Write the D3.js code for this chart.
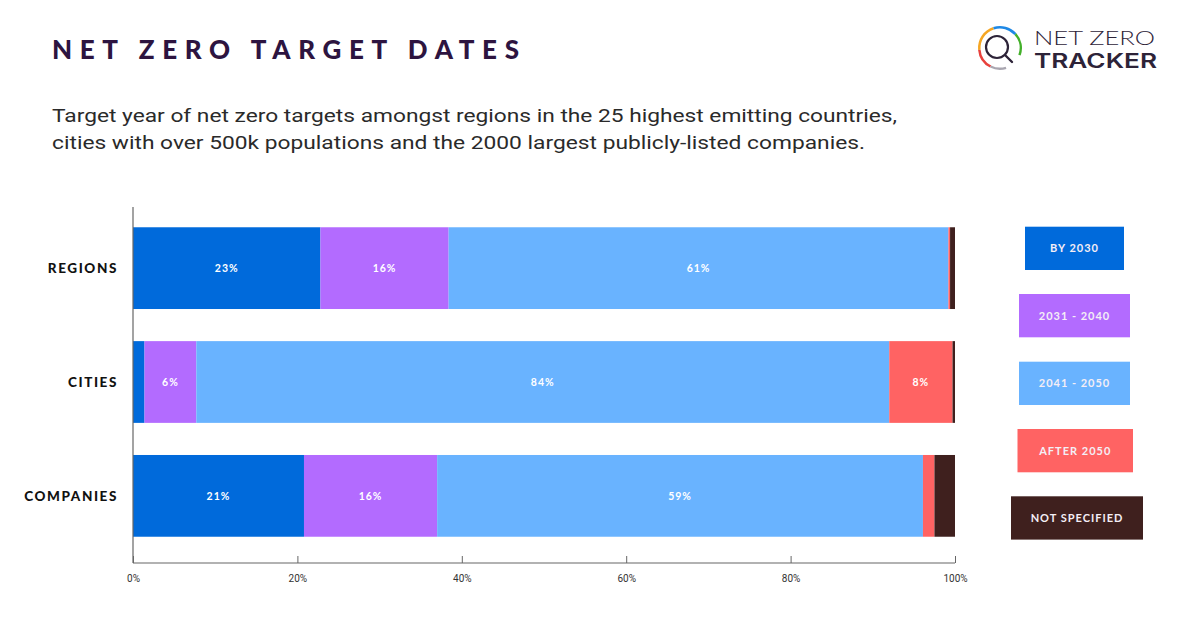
<!DOCTYPE html>
<html><head><meta charset="utf-8">
<script src="https://cdn.jsdelivr.net/npm/d3@7"></script>
<style>
html,body{margin:0;padding:0;background:#fff;}
svg{display:block;}
</style></head>
<body>
<svg id="chart" width="1200" height="630"></svg>
<script>
const categories = ["REGIONS", "CITIES", "COMPANIES"];
const seriesNames = ["BY 2030", "2031 - 2040", "2041 - 2050", "AFTER 2050", "NOT SPECIFIED"];
const by2030      = [22.8, 1.4, 20.8];
const y2031_2040  = [15.6, 6.3, 16.2];
const y2041_2050  = [60.8, 84.3, 59.1];
const after2050   = [0.2, 7.7, 1.4];
const notSpecified= [0.6, 0.3, 2.5];
const labelValues = [[23, 16, 61, null, null], [null, 6, 84, 8, null], [21, 16, 59, null, null]];
const tickValues = [0, 20, 40, 60, 80, 100];
const colors = ["#006ADB", "#B36BFF", "#69B3FF", "#FF6363", "#3F201E"];

const seriesArrays = [by2030, y2031_2040, y2041_2050, after2050, notSpecified];
const rows = categories.map((c, i) => {
  const o = {cat: c};
  seriesNames.forEach((s, j) => o[s] = seriesArrays[j][i]);
  return o;
});

const svg = d3.select("#chart");
const x = d3.scaleLinear().domain([0, 100]).range([133, 955]);
const y = d3.scaleBand().domain(categories).range([207, 557]).paddingInner(0.282).paddingOuter(0.178);

// Title
svg.append("text").attr("x", 52).attr("y", 59)
  .attr("textLength", 467).attr("lengthAdjust", "spacing")
  .style("font-family", "Lato").style("font-weight", 900).style("font-size", "26px")
  .style("fill", "#2d1440").text("NET ZERO TARGET DATES");

// Subtitle
const sub = ["Target year of net zero targets amongst regions in the 25 highest emitting countries,",
             "cities with over 500k populations and the 2000 largest publicly-listed companies."];
const subW = [845, 813];
sub.forEach((t, i) => {
  svg.append("text").attr("x", 52).attr("y", 122 + i * 27)
    .attr("textLength", subW[i]).attr("lengthAdjust", "spacingAndGlyphs")
    .style("font-family", "Roboto").style("font-size", "19px").style("font-weight", 400)
    .style("fill", "#2a2a2a").text(t);
});

// Logo
const logo = svg.append("g").attr("transform", "translate(1000,48)");
const arcs = [
  {a0: -95, a1: -18, c: "#F5A623"},
  {a0: -18, a1: 48, c: "#1E88E5"},
  {a0: 48, a1: 110, c: "#43B02A"},
  {a0: -153, a1: -95, c: "#E8413C"},
  {a0: 163, a1: 207, c: "#A9A6B0"}
];
const arcGen = d3.arc().innerRadius(19.5).outerRadius(22);
arcs.forEach(a => {
  logo.append("path").attr("d", arcGen({startAngle: a.a0 * Math.PI / 180, endAngle: a.a1 * Math.PI / 180}))
    .attr("fill", a.c);
});
logo.append("circle").attr("cx", -3).attr("cy", -1).attr("r", 11).attr("fill", "none").attr("stroke", "#2d2338").attr("stroke-width", 2.2);
logo.append("line").attr("x1", 5).attr("y1", 7).attr("x2", 12).attr("y2", 14).attr("stroke", "#2d2338").attr("stroke-width", 2.4).attr("stroke-linecap", "round");
svg.append("text").attr("x", 1034).attr("y", 45).attr("textLength", 121).attr("lengthAdjust", "spacingAndGlyphs")
  .style("font-family", "Lato").style("font-weight", 300).style("font-size", "19px").style("fill", "#2d2338").text("NET ZERO");
svg.append("text").attr("x", 1034).attr("y", 68).attr("textLength", 123).attr("lengthAdjust", "spacingAndGlyphs")
  .style("font-family", "Inter").style("font-weight", 600).style("font-size", "20px").style("fill", "#2d2338").text("TRACKER");

// Bars
const stack = d3.stack().keys(seriesNames)(rows);
const g = svg.append("g");
stack.forEach((layer, j) => {
  g.selectAll(null).data(layer).enter().append("rect")
    .attr("x", d => x(d[0]))
    .attr("y", d => y(d.data.cat))
    .attr("width", d => x(d[1]) - x(d[0]))
    .attr("height", y.bandwidth())
    .attr("fill", colors[j]);
});
// Value labels
stack.forEach((layer, j) => {
  layer.forEach((d, i) => {
    const v = labelValues[i][j];
    if (v == null) return;
    svg.append("text")
      .attr("x", (x(d[0]) + x(d[1])) / 2)
      .attr("y", y(d.data.cat) + y.bandwidth() / 2 + 4)
      .attr("text-anchor", "middle")
      .style("font-family", "Lato").style("font-weight", 700).style("font-size", "10.5px")
      .style("letter-spacing", "1px").style("fill", "#fff").text(v + "%");
  });
});

// Axes
const axisColor = "#666";
svg.append("line").attr("x1", 133).attr("x2", 133).attr("y1", 207).attr("y2", 563).attr("stroke", axisColor).attr("stroke-width", 1.2);
const xAxis = svg.append("g").attr("transform", "translate(0,563)")
  .call(d3.axisBottom(x).tickValues(tickValues).tickSize(-7).tickPadding(10).tickFormat(d => d + "%"));
xAxis.select(".domain").attr("stroke", axisColor).attr("stroke-width", 1.2).attr("d", "M133,0H955");
xAxis.selectAll(".tick line").attr("stroke", axisColor);
xAxis.selectAll(".tick text").style("font-family", "Roboto").style("font-size", "10px").style("fill", "#333").attr("dy", "0.9em");

// Category labels
categories.forEach(c => {
  svg.append("text").attr("x", 118).attr("y", y(c) + y.bandwidth() / 2 + 5)
    .attr("text-anchor", "end")
    .style("font-family", "Lato").style("font-weight", 900).style("font-size", "13.5px")
    .style("letter-spacing", "1.6px").style("fill", "#111").text(c);
});

// Legend
const legendBoxes = [
  {x0: 1025, x1: 1124, y0: 226.7},
  {x0: 1019, x1: 1130, y0: 294},
  {x0: 1019, x1: 1130, y0: 361.7},
  {x0: 1017.5, x1: 1133, y0: 429},
  {x0: 1011, x1: 1143, y0: 496.3}
];
seriesNames.forEach((s, j) => {
  const b = legendBoxes[j];
  svg.append("rect").attr("x", b.x0).attr("y", b.y0).attr("width", b.x1 - b.x0).attr("height", 43.3).attr("fill", colors[j]);
  svg.append("text").attr("x", (b.x0 + b.x1) / 2).attr("y", b.y0 + 21.6 + 4)
    .attr("text-anchor", "middle")
    .style("font-family", "Lato").style("font-weight", 700).style("font-size", "11px")
    .style("letter-spacing", "1px").style("fill", "#f4eef6").text(s);
});
</script>
</body></html>
